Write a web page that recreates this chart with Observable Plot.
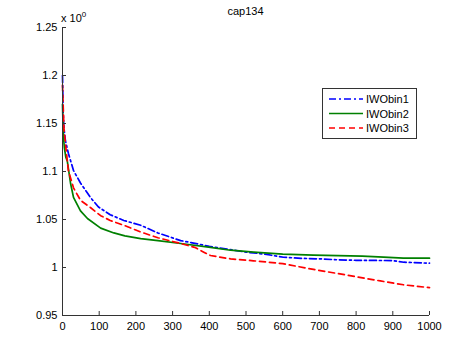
<!DOCTYPE html>
<html>
<head>
<meta charset="utf-8">
<script src="https://cdn.jsdelivr.net/npm/d3@7"></script>
<script src="https://cdn.jsdelivr.net/npm/@observablehq/plot@0.6"></script>
<style>
  body { margin: 0; background: #fff; }
  #wrap { position: relative; width: 474px; height: 354px; font-family: "Liberation Sans", Arial, sans-serif; }
  .ov { position: absolute; font-size: 11px; color: #000; white-space: nowrap; }
</style>
</head>
<body>
<div id="wrap"></div>
<script>
const title = "cap134";
const seriesNames = ["IWObin1", "IWObin2", "IWObin3"];
const seriesColors = ["#0000ff", "#008000", "#ff0000"];
const seriesDash = ["7,3,2,3", null, "6,4"];

const xTicks = [0, 100, 200, 300, 400, 500, 600, 700, 800, 900, 1000];
const yTicks = [0.95, 1, 1.05, 1.1, 1.15, 1.2, 1.25];

const bin1X = [0,2,4,8,16,30,49,76,98,130,167,213,260,322,350,400,450,500,550,602,650,700,750,800,900,930,1000];
const bin1Y = [1.200,1.160,1.145,1.132,1.119,1.101,1.088,1.073,1.063,1.055,1.049,1.044,1.036,1.028,1.026,1.022,1.019,1.016,1.014,1.0107,1.0095,1.009,1.008,1.0075,1.0072,1.0055,1.0045];

const bin2X = [0,2,5,9,13,22,30,49,68,104,140,170,213,260,322,403,458,521,600,684,817,875,929,1000];
const bin2Y = [1.170,1.140,1.125,1.115,1.111,1.0875,1.073,1.059,1.051,1.041,1.036,1.033,1.030,1.028,1.025,1.021,1.018,1.016,1.0139,1.0128,1.0118,1.0108,1.0097,1.0097];

const bin3X = [0,2,4,8,16,30,49,76,104,130,167,213,260,322,360,385,403,458,520,600,684,776,866,929,1000];
const bin3Y = [1.190,1.167,1.145,1.129,1.101,1.083,1.070,1.0625,1.054,1.049,1.044,1.037,1.031,1.025,1.021,1.016,1.0125,1.009,1.007,1.004,0.998,0.992,0.986,0.982,0.979];

const toRows = (xs, ys) => xs.map((x, i) => ({x, y: ys[i]}));
const series = [toRows(bin1X, bin1Y), toRows(bin2X, bin2Y), toRows(bin3X, bin3Y)];

const W = 474, H = 354, mL = 62, mR = 45, mT = 27, mB = 39;
const fw = W - mL - mR, fh = H - mT - mB;

const marks = [];
series.forEach((rows, i) => {
  marks.push(Plot.line(rows, {x: "x", y: "y", stroke: seriesColors[i], strokeWidth: 1.7,
    strokeDasharray: seriesDash[i] || undefined}));
});
marks.push(Plot.ruleX([0], {stroke: "#333", strokeWidth: 1}));
marks.push(Plot.ruleY([0.95], {stroke: "#333", strokeWidth: 1}));
marks.push(Plot.tickY(yTicks, {y: d => d, stroke: "#333", insetRight: fw - 4}));
marks.push(Plot.tickX(xTicks, {x: d => d, stroke: "#333", insetTop: fh - 4}));
marks.push(Plot.axisY(yTicks, {tickSize: 0, tickPadding: 5, tickFormat: d => String(d), fontSize: 11, fill: "#000", label: null}));
marks.push(Plot.axisX(xTicks, {tickSize: 0, tickPadding: 7, tickFormat: d => String(d), fontSize: 11, fill: "#000", label: null}));

const chart = Plot.plot({
  width: W, height: H,
  marginLeft: mL, marginRight: mR, marginTop: mT, marginBottom: mB,
  x: {domain: [0, 1000], label: null},
  y: {domain: [0.95, 1.25], label: null},
  style: {fontFamily: "Liberation Sans, Arial, sans-serif", fontSize: "11px", background: "#fff"},
  marks
});

const wrap = document.getElementById("wrap");
wrap.appendChild(chart);

const t = document.createElement("div");
t.className = "ov";
t.textContent = title;
t.style.left = (mL + fw / 2) + "px";
t.style.top = "5px";
t.style.transform = "translateX(-50%)";
wrap.appendChild(t);

const ex = document.createElement("div");
ex.className = "ov";
ex.innerHTML = "x 10<sup style='font-size:8px;vertical-align:5px'>0</sup>";
ex.style.left = "61px";
ex.style.top = "10px";
wrap.appendChild(ex);

// legend
const lg = document.createElement("div");
lg.style.position = "absolute";
lg.style.left = "322px";
lg.style.top = "88px";
lg.style.width = "95px";
lg.style.height = "51px";
lg.style.border = "1px solid #333";
lg.style.background = "#fff";
lg.style.boxSizing = "border-box";
const ns = "http://www.w3.org/2000/svg";
const ls = document.createElementNS(ns, "svg");
ls.setAttribute("width", "93");
ls.setAttribute("height", "49");
ls.style.position = "absolute";
ls.style.left = "0"; ls.style.top = "0";
seriesNames.forEach((name, i) => {
  const yy = 10 + i * 14.5;
  const ln = document.createElementNS(ns, "line");
  ln.setAttribute("x1", 6); ln.setAttribute("x2", 40);
  ln.setAttribute("y1", yy); ln.setAttribute("y2", yy);
  ln.setAttribute("stroke", seriesColors[i]);
  ln.setAttribute("stroke-width", 1.7);
  if (seriesDash[i]) ln.setAttribute("stroke-dasharray", seriesDash[i]);
  ls.appendChild(ln);
  const tx = document.createElementNS(ns, "text");
  tx.setAttribute("x", 43); tx.setAttribute("y", yy + 4);
  tx.setAttribute("font-size", 11);
  tx.setAttribute("font-family", "Liberation Sans, Arial, sans-serif");
  tx.textContent = name;
  ls.appendChild(tx);
});
lg.appendChild(ls);
wrap.appendChild(lg);
</script>
</body>
</html>
